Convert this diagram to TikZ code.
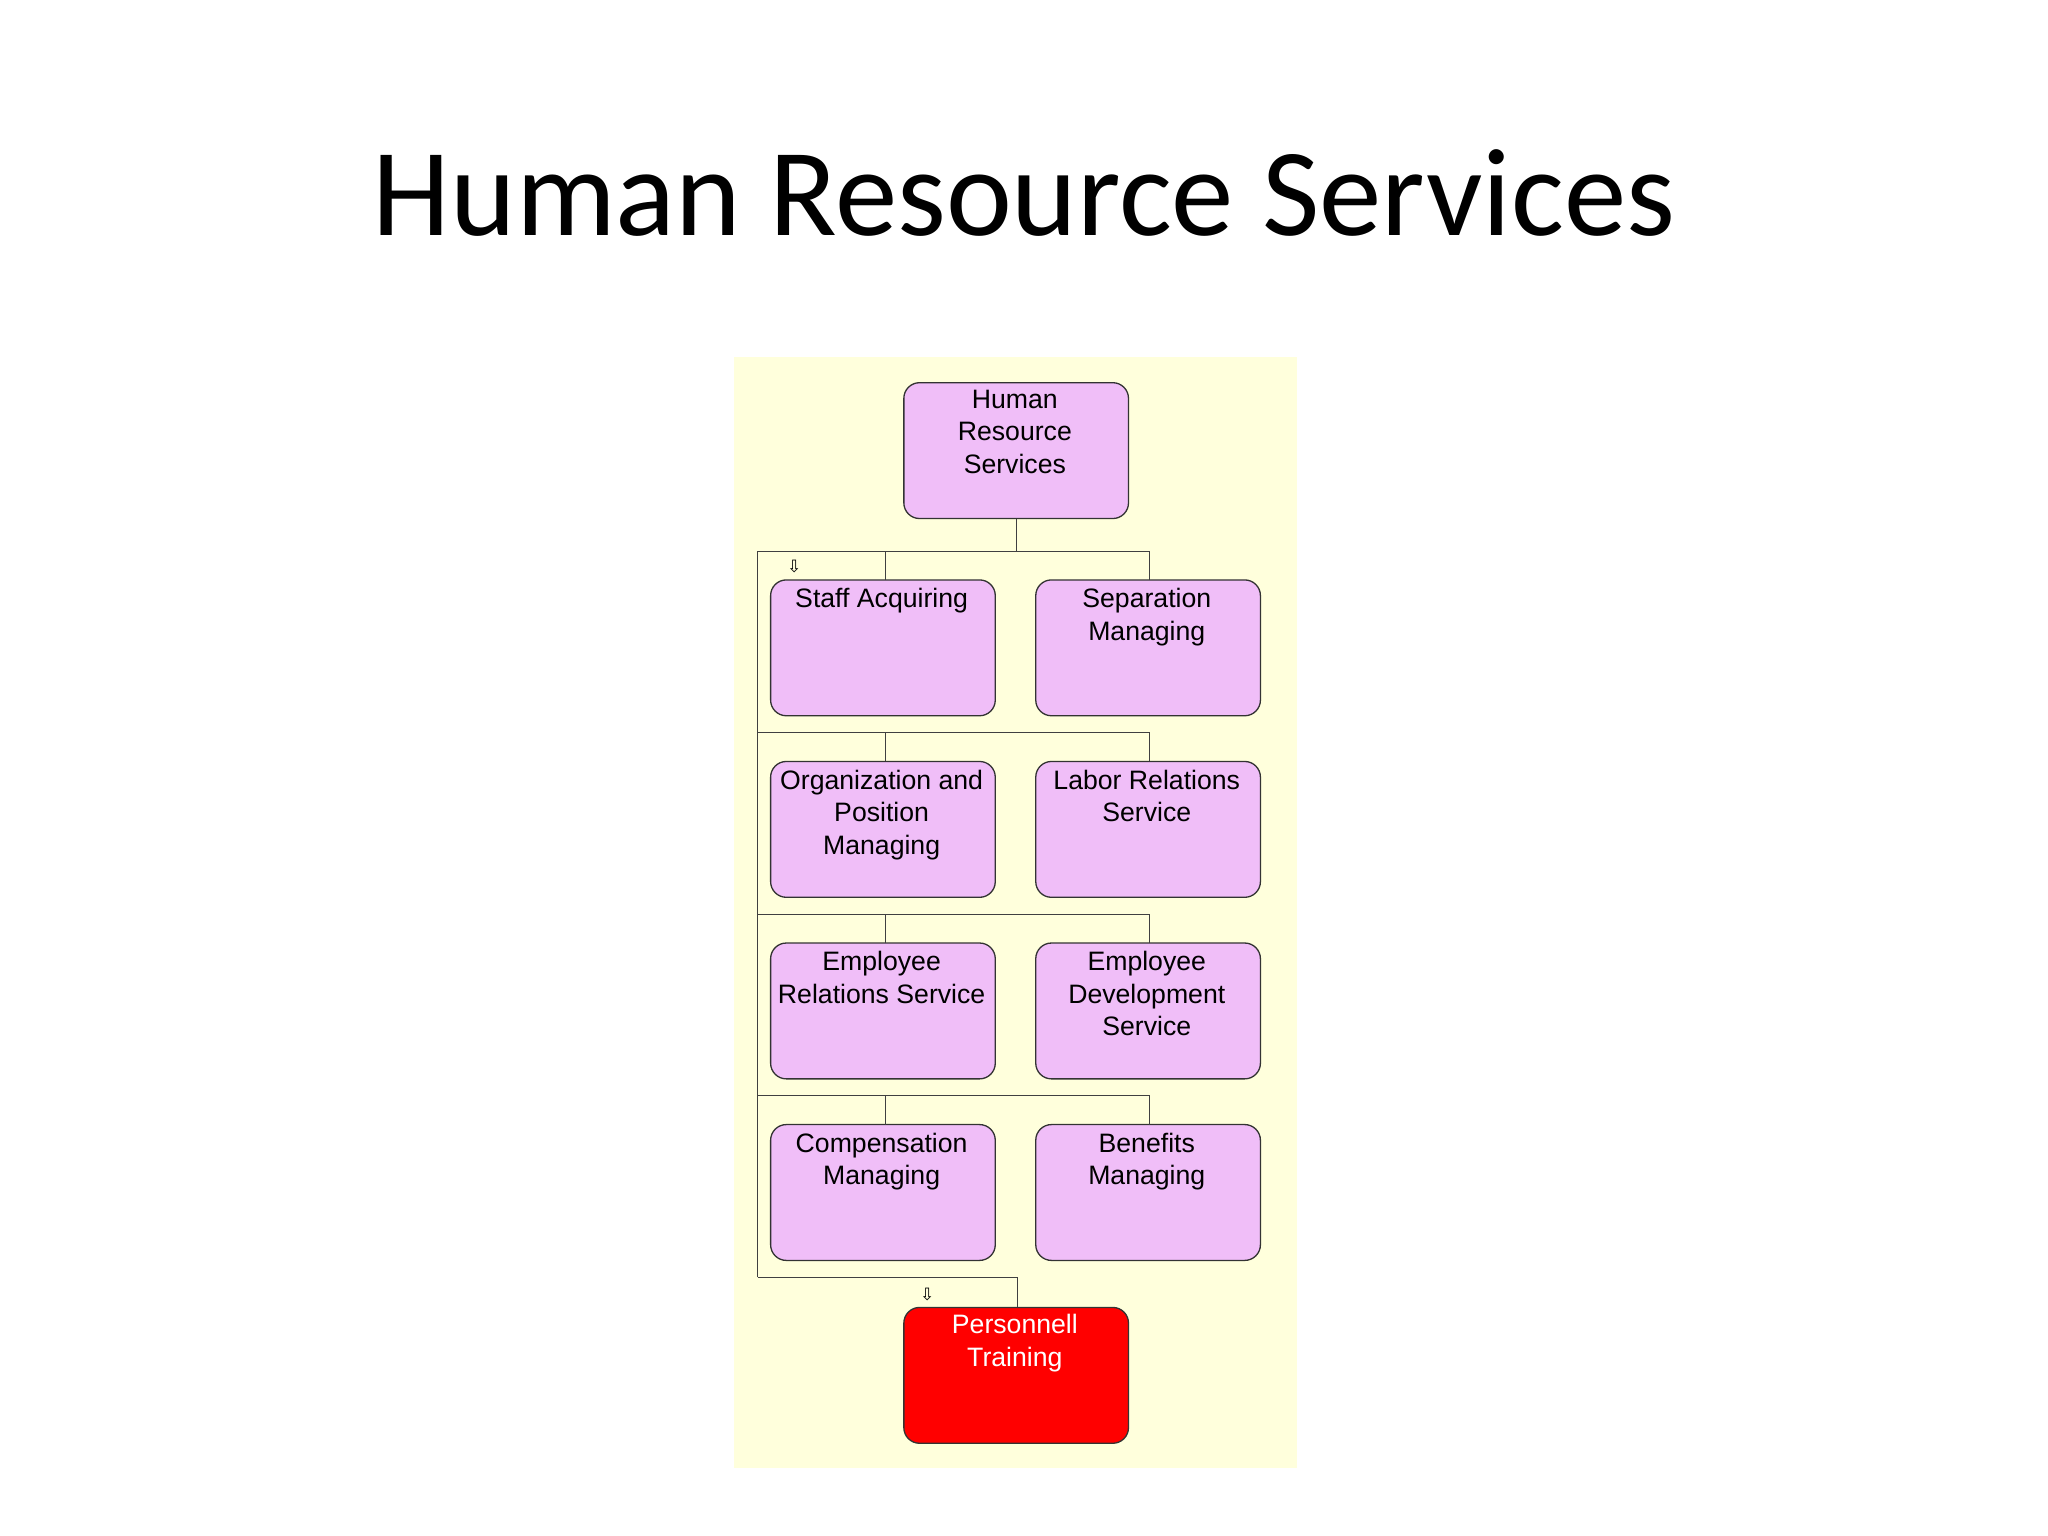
\documentclass[tikz,border=0pt]{standalone}
\usepackage{fontspec}
\setmainfont{Liberation Sans}
\newfontfamily\titlefont{Carlito}
\newfontfamily\symfont{DejaVu Sans}
\begin{document}
\begin{tikzpicture}[x=0.5pt,y=-0.5pt,
  box/.style={draw=black!80,fill=boxpink,rounded corners=6pt,line width=0.5pt},
  lbl/.style={anchor=north,align=center,font=\fontsize{10.2}{12.5}\selectfont,inner sep=0pt},
  ln/.style={draw=black!75,line width=0.5pt},
  sym/.style={font=\symfont\fontsize{6.5}{6.5}\selectfont,inner sep=0pt}]
\definecolor{boxpink}{HTML}{F0BEF8}
\definecolor{panel}{HTML}{FFFFDC}
\useasboundingbox (0,0) rectangle (1568,1176);
\fill[white] (0,0) rectangle (1568,1176);
\node[font=\titlefont\fontsize{47.8}{52}\selectfont] (title) at (784,148) {Human Resource Services};
\fill[panel] (562,273) rectangle (993,1124);
\draw[box] (692,293) rectangle (864,397);
\node[lbl] (t0) at (777,298) {Human\\Resource\\Services};
\newcommand\pbox[5]{\draw[box] (#1,#2) rectangle (#1+172,#2+104); \node[lbl] (#3) at (#1+85,#2+6) {#4};}
\pbox{590}{444}{b1}{Staff Acquiring}{}
\pbox{793}{444}{b2}{Separation\\Managing}{}
\pbox{590}{583}{b3}{Organization and\\Position\\Managing}{}
\pbox{793}{583}{b4}{Labor Relations\\Service}{}
\pbox{590}{722}{b5}{Employee\\Relations Service}{}
\pbox{793}{722}{b6}{Employee\\Development\\Service}{}
\pbox{590}{861}{b7}{Compensation\\Managing}{}
\pbox{793}{861}{b8}{Benefits\\Managing}{}
\draw[box,fill=red] (692,1001) rectangle (864,1105);
\node[lbl,text=white] (b9) at (777,1006) {Personnell\\Training};
\draw[ln] (778,397) -- (778,422);
\draw[ln] (580,978) -- (580,422) -- (880,422) -- (880,444);
\draw[ln] (678,422) -- (678,444);
\foreach \y in {561,700,839}{
  \draw[ln] (580,\y) -- (880,\y) -- (880,\y+22);
  \draw[ln] (678,\y) -- (678,\y+22);
}
\draw[ln] (580,978) -- (779,978) -- (779,1001);
\node[sym] (a1) at (608,434) {⇩};
\node[sym] (a2) at (710,991) {⇩};
\end{tikzpicture}
\end{document}
